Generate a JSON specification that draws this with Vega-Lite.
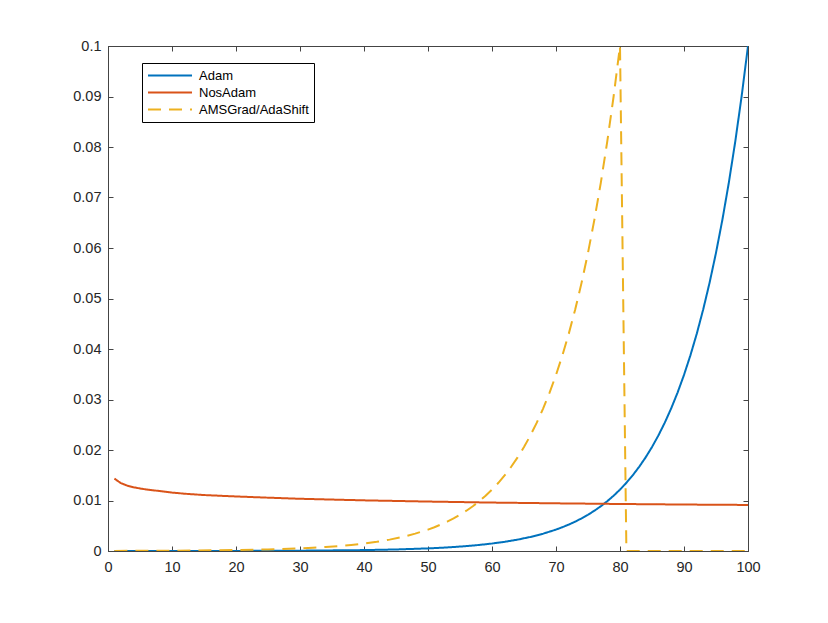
{
  "$schema": "https://vega.github.io/schema/vega-lite/v6.json",
  "autosize": {"type": "none"},
  "width": 640,
  "height": 505,
  "padding": {"left": 108, "top": 46, "right": 80, "bottom": 72},
  "background": "#ffffff",
  "config": {
    "view": {"stroke": "#444444", "strokeWidth": 1},
    "font": "Liberation Sans",
    "axis": {
      "grid": false,
      "domainColor": "#444444",
      "tickColor": "#444444",
      "tickSize": -5,
      "labelFlush": false,
      "labelFont": "Liberation Sans",
      "labelFontSize": 14.5,
      "labelColor": "#262626",
      "title": null
    },
    "legend": {
      "orient": "none",
      "legendX": 34,
      "legendY": 17,
      "title": null,
      "strokeColor": "#000000",
      "fillColor": "#ffffff",
      "padding": 5,
      "symbolType": "M-1,0H5.77",
      "symbolSize": 169,
      "symbolStrokeWidth": 2,
      "labelFont": "Liberation Sans",
      "labelFontSize": 13,
      "labelColor": "#000000",
      "rowPadding": 2,
      "labelOffset": 37
    }
  },
  "data": {
    "values": [
      {"t": 1, "s": "Adam", "v": 0.000003},
      {"t": 10, "s": "Adam", "v": 0.0000076},
      {"t": 20, "s": "Adam", "v": 0.0000218},
      {"t": 30, "s": "Adam", "v": 0.0000626},
      {"t": 40, "s": "Adam", "v": 0.00018},
      {"t": 45, "s": "Adam", "v": 0.000304},
      {"t": 50, "s": "Adam", "v": 0.000515},
      {"t": 52, "s": "Adam", "v": 0.000636},
      {"t": 54, "s": "Adam", "v": 0.000786},
      {"t": 56, "s": "Adam", "v": 0.00097},
      {"t": 58, "s": "Adam", "v": 0.001197},
      {"t": 60, "s": "Adam", "v": 0.001478},
      {"t": 62, "s": "Adam", "v": 0.001825},
      {"t": 64, "s": "Adam", "v": 0.002253},
      {"t": 66, "s": "Adam", "v": 0.002781},
      {"t": 68, "s": "Adam", "v": 0.003434},
      {"t": 70, "s": "Adam", "v": 0.004239},
      {"t": 71, "s": "Adam", "v": 0.00471},
      {"t": 72, "s": "Adam", "v": 0.005234},
      {"t": 73, "s": "Adam", "v": 0.005815},
      {"t": 74, "s": "Adam", "v": 0.006461},
      {"t": 75, "s": "Adam", "v": 0.007179},
      {"t": 76, "s": "Adam", "v": 0.007977},
      {"t": 77, "s": "Adam", "v": 0.008863},
      {"t": 78, "s": "Adam", "v": 0.009848},
      {"t": 79, "s": "Adam", "v": 0.010942},
      {"t": 80, "s": "Adam", "v": 0.012158},
      {"t": 81, "s": "Adam", "v": 0.013509},
      {"t": 82, "s": "Adam", "v": 0.015009},
      {"t": 83, "s": "Adam", "v": 0.016677},
      {"t": 84, "s": "Adam", "v": 0.01853},
      {"t": 85, "s": "Adam", "v": 0.020589},
      {"t": 86, "s": "Adam", "v": 0.022877},
      {"t": 87, "s": "Adam", "v": 0.025419},
      {"t": 88, "s": "Adam", "v": 0.028243},
      {"t": 89, "s": "Adam", "v": 0.031381},
      {"t": 90, "s": "Adam", "v": 0.034868},
      {"t": 91, "s": "Adam", "v": 0.038742},
      {"t": 92, "s": "Adam", "v": 0.043047},
      {"t": 93, "s": "Adam", "v": 0.04783},
      {"t": 94, "s": "Adam", "v": 0.053144},
      {"t": 95, "s": "Adam", "v": 0.059049},
      {"t": 96, "s": "Adam", "v": 0.06561},
      {"t": 97, "s": "Adam", "v": 0.0729},
      {"t": 98, "s": "Adam", "v": 0.081},
      {"t": 99, "s": "Adam", "v": 0.09},
      {"t": 100, "s": "Adam", "v": 0.1},
      {"t": 1, "s": "NosAdam", "v": 0.01434},
      {"t": 2, "s": "NosAdam", "v": 0.01345},
      {"t": 3, "s": "NosAdam", "v": 0.01295},
      {"t": 4, "s": "NosAdam", "v": 0.01262},
      {"t": 5, "s": "NosAdam", "v": 0.01238},
      {"t": 6, "s": "NosAdam", "v": 0.01218},
      {"t": 8, "s": "NosAdam", "v": 0.01188},
      {"t": 10, "s": "NosAdam", "v": 0.01157},
      {"t": 12, "s": "NosAdam", "v": 0.01134},
      {"t": 15, "s": "NosAdam", "v": 0.01108},
      {"t": 20, "s": "NosAdam", "v": 0.0108},
      {"t": 25, "s": "NosAdam", "v": 0.01056},
      {"t": 30, "s": "NosAdam", "v": 0.01034},
      {"t": 40, "s": "NosAdam", "v": 0.01003},
      {"t": 50, "s": "NosAdam", "v": 0.00979},
      {"t": 60, "s": "NosAdam", "v": 0.00959},
      {"t": 70, "s": "NosAdam", "v": 0.00944},
      {"t": 80, "s": "NosAdam", "v": 0.00931},
      {"t": 90, "s": "NosAdam", "v": 0.0092},
      {"t": 100, "s": "NosAdam", "v": 0.00912},
      {"t": 1, "s": "AMSGrad/AdaShift", "v": 0.0000241},
      {"t": 10, "s": "AMSGrad/AdaShift", "v": 0.0000626},
      {"t": 20, "s": "AMSGrad/AdaShift", "v": 0.00018},
      {"t": 25, "s": "AMSGrad/AdaShift", "v": 0.000304},
      {"t": 30, "s": "AMSGrad/AdaShift", "v": 0.000515},
      {"t": 32, "s": "AMSGrad/AdaShift", "v": 0.000636},
      {"t": 34, "s": "AMSGrad/AdaShift", "v": 0.000786},
      {"t": 36, "s": "AMSGrad/AdaShift", "v": 0.00097},
      {"t": 38, "s": "AMSGrad/AdaShift", "v": 0.001197},
      {"t": 40, "s": "AMSGrad/AdaShift", "v": 0.001478},
      {"t": 42, "s": "AMSGrad/AdaShift", "v": 0.001825},
      {"t": 44, "s": "AMSGrad/AdaShift", "v": 0.002253},
      {"t": 46, "s": "AMSGrad/AdaShift", "v": 0.002781},
      {"t": 48, "s": "AMSGrad/AdaShift", "v": 0.003434},
      {"t": 50, "s": "AMSGrad/AdaShift", "v": 0.004239},
      {"t": 51, "s": "AMSGrad/AdaShift", "v": 0.00471},
      {"t": 52, "s": "AMSGrad/AdaShift", "v": 0.005234},
      {"t": 53, "s": "AMSGrad/AdaShift", "v": 0.005815},
      {"t": 54, "s": "AMSGrad/AdaShift", "v": 0.006461},
      {"t": 55, "s": "AMSGrad/AdaShift", "v": 0.007179},
      {"t": 56, "s": "AMSGrad/AdaShift", "v": 0.007977},
      {"t": 57, "s": "AMSGrad/AdaShift", "v": 0.008863},
      {"t": 58, "s": "AMSGrad/AdaShift", "v": 0.009848},
      {"t": 59, "s": "AMSGrad/AdaShift", "v": 0.010942},
      {"t": 60, "s": "AMSGrad/AdaShift", "v": 0.012158},
      {"t": 61, "s": "AMSGrad/AdaShift", "v": 0.013509},
      {"t": 62, "s": "AMSGrad/AdaShift", "v": 0.015009},
      {"t": 63, "s": "AMSGrad/AdaShift", "v": 0.016677},
      {"t": 64, "s": "AMSGrad/AdaShift", "v": 0.01853},
      {"t": 65, "s": "AMSGrad/AdaShift", "v": 0.020589},
      {"t": 66, "s": "AMSGrad/AdaShift", "v": 0.022877},
      {"t": 67, "s": "AMSGrad/AdaShift", "v": 0.025419},
      {"t": 68, "s": "AMSGrad/AdaShift", "v": 0.028243},
      {"t": 69, "s": "AMSGrad/AdaShift", "v": 0.031381},
      {"t": 70, "s": "AMSGrad/AdaShift", "v": 0.034868},
      {"t": 71, "s": "AMSGrad/AdaShift", "v": 0.038742},
      {"t": 72, "s": "AMSGrad/AdaShift", "v": 0.043047},
      {"t": 73, "s": "AMSGrad/AdaShift", "v": 0.04783},
      {"t": 74, "s": "AMSGrad/AdaShift", "v": 0.053144},
      {"t": 75, "s": "AMSGrad/AdaShift", "v": 0.059049},
      {"t": 76, "s": "AMSGrad/AdaShift", "v": 0.06561},
      {"t": 77, "s": "AMSGrad/AdaShift", "v": 0.0729},
      {"t": 78, "s": "AMSGrad/AdaShift", "v": 0.081},
      {"t": 79, "s": "AMSGrad/AdaShift", "v": 0.09},
      {"t": 80, "s": "AMSGrad/AdaShift", "v": 0.1},
      {"t": 81, "s": "AMSGrad/AdaShift", "v": 0},
      {"t": 100, "s": "AMSGrad/AdaShift", "v": 0}
    ]
  },
  "layer": [
    {
      "mark": {"type": "line", "strokeWidth": 2, "clip": true},
      "encoding": {
        "x": {
          "field": "t", "type": "quantitative",
          "scale": {"domain": [0, 100], "nice": false, "zero": false},
          "axis": {"orient": "bottom", "values": [0,10,20,30,40,50,60,70,80,90,100], "labelPadding": 14, "format": "d"}
        },
        "y": {
          "field": "v", "type": "quantitative",
          "scale": {"domain": [0, 0.1], "nice": false},
          "axis": {"orient": "left", "values": [0,0.01,0.02,0.03,0.04,0.05,0.06,0.07,0.08,0.09,0.1], "labelPadding": 12, "format": "~g"}
        },
        "color": {
          "field": "s", "type": "nominal",
          "scale": {"domain": ["Adam", "NosAdam", "AMSGrad/AdaShift"], "range": ["#0072BD", "#D95319", "#EDB120"]},
          "sort": ["Adam", "NosAdam", "AMSGrad/AdaShift"]
        },
        "strokeDash": {
          "field": "s", "type": "nominal",
          "scale": {"domain": ["Adam", "NosAdam", "AMSGrad/AdaShift"], "range": [[1, 0], [1, 0], [13, 8]]},
          "sort": ["Adam", "NosAdam", "AMSGrad/AdaShift"]
        }
      }
    },
    {
      "mark": {"type": "line", "opacity": 0},
      "encoding": {
        "x": {
          "field": "t", "type": "quantitative",
          "axis": {"orient": "top", "values": [0,10,20,30,40,50,60,70,80,90,100], "labels": false}
        },
        "y": {
          "field": "v", "type": "quantitative",
          "axis": {"orient": "right", "values": [0,0.01,0.02,0.03,0.04,0.05,0.06,0.07,0.08,0.09,0.1], "labels": false}
        },
        "detail": {"field": "s"}
      }
    }
  ],
  "resolve": {"axis": {"x": "independent", "y": "independent"}}
}
